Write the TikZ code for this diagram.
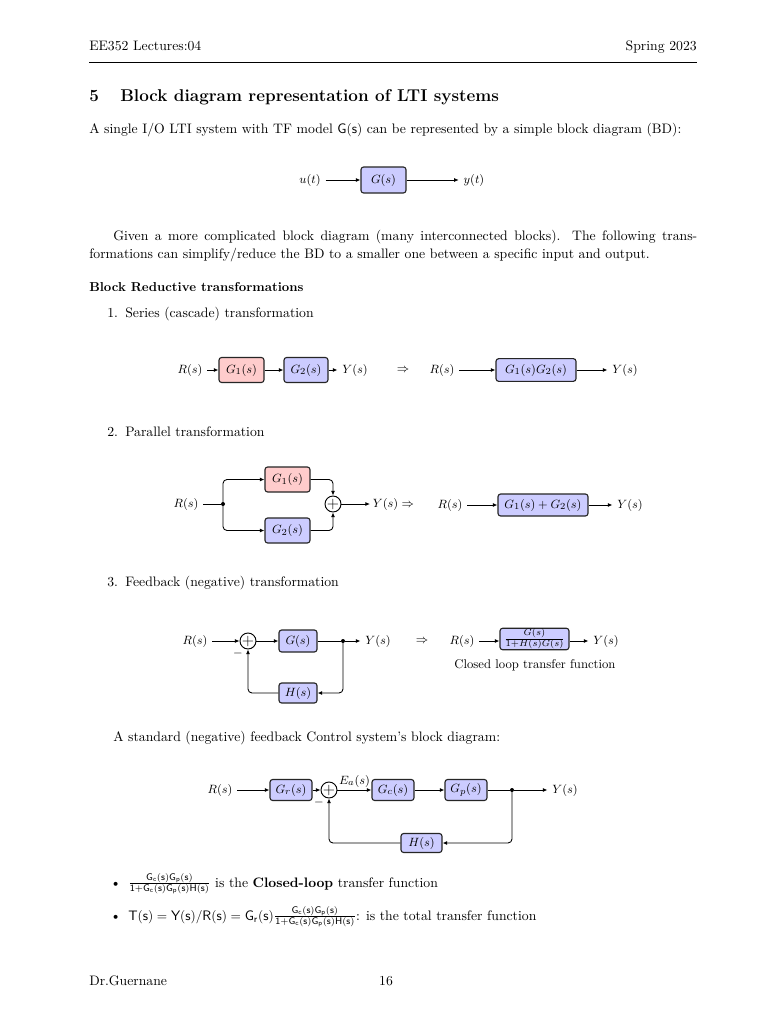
\documentclass[tikz,border=0pt]{standalone}
\usepackage{fontspec}
\usepackage{amsmath}
\usetikzlibrary{arrows.meta,calc}
\newcommand{\bodyfont}{\fontsize{10.3}{12}\selectfont}
\newcommand{\titlefont}{\fontsize{12.8}{15}\selectfont\bfseries}
\newcommand{\dgfont}{\fontsize{9.5}{11}\selectfont}
\begin{document}
\begin{tikzpicture}[x=0.75pt,y=-0.75pt,
  txt/.style={anchor=base west,inner sep=0pt,font=\bodyfont},
  blk/.style={draw=black!85,line width=0.85pt,fill=blue!20,rounded corners=2pt,inner sep=1pt,font=\dgfont},
  redblk/.style={blk,fill=red!20},
  sig/.style={inner sep=3.5pt,font=\dgfont},
  sumnode/.style={circle,draw=black,line width=0.7pt,minimum size=10.5pt,inner sep=0pt,font=\fontsize{11.5}{11.5}\selectfont},
  arr/.style={-{Latex[length=3.5pt,width=3pt]},line width=0.65pt},
  ln/.style={line width=0.65pt},
  jdot/.style={circle,fill=black,inner sep=0pt,minimum size=3pt}]
\useasboundingbox[fill=white] (0,0) rectangle (768,1024);

% header
\node[txt] (hl) at (89,51) {EE352 Lectures:04};
\node[txt,anchor=base east] (hr) at (697,51) {Spring 2023};
\draw[line width=0.6pt] (89,62) -- (697,62);
\node[txt,font=\titlefont] (sn) at (89,101) {5};
\node[txt,font=\titlefont] (st) at (120,101) {Block diagram representation of LTI systems};
\node[txt] (p1) at (89,133) {A single I/O LTI system with TF model $\mathsf{G(s)}$ can be represented by a simple block diagram (BD):};

% diagram 1
\node[sig] (u) at (310,180) {$u(t)$};
\node[blk,minimum width=33.75pt,minimum height=19.5pt] (G) at (383.5,180) {$G(s)$};
\node[sig] (yt) at (474,180) {$y(t)$};
\draw[arr] (u) -- (G);
\draw[arr] (G) -- (yt);

\node[txt] (p2) at (113,240) {\makebox[438pt][s]{Given a more complicated block diagram (many interconnected blocks). The following trans-}};
\node[txt] (p3) at (89,258) {formations can simplify/reduce the BD to a smaller one between a specific input and output.};
\node[txt,font=\fontsize{9.7}{12}\selectfont\bfseries] (bh) at (89,291) {Block Reductive transformations};
\node[txt] (i1n) at (107,317) {1.};
\node[txt] (i1) at (125,317) {Series (cascade) transformation};

% series
\node[sig] (r1) at (190,370) {$R(s)$};
\node[redblk,minimum width=33.75pt,minimum height=18.75pt] (g1) at (241.5,370) {$G_1(s)$};
\node[blk,minimum width=33pt,minimum height=18.75pt] (g2) at (306,370) {$G_2(s)$};
\node[sig] (y1) at (355,370) {$Y(s)$};
\node[sig] (imp1) at (403,370) {$\Rightarrow$};
\node[sig] (r2) at (442,370) {$R(s)$};
\node[blk,minimum width=60pt,minimum height=17pt] (g12) at (536,370) {$G_1(s)G_2(s)$};
\node[sig] (y2) at (625,370) {$Y(s)$};
\draw[arr] (r1) -- (g1);
\draw[arr] (g1) -- (g2);
\draw[arr] (g2) -- (y1);
\draw[arr] (r2) -- (g12);
\draw[arr] (g12) -- (y2);

\node[txt] (i2n) at (107,436) {2.};
\node[txt] (i2) at (125,436) {Parallel transformation};

% parallel
\node[sig] (r3) at (186,504) {$R(s)$};
\node[jdot] (j1) at (223,504) {};
\node[redblk,minimum width=33.75pt,minimum height=18.75pt] (pg1) at (287.5,479.5) {$G_1(s)$};
\node[blk,minimum width=33.75pt,minimum height=18.75pt] (pg2) at (287.5,530.5) {$G_2(s)$};
\node[sumnode] (s1) at (333,504) {$+$};
\node[sig,anchor=west,inner sep=2pt] (y3) at (370,504) {$Y(s)\Rightarrow$};
\draw[ln] (r3) -- (j1);
\draw[arr,rounded corners=3pt] (j1.center) |- (pg1);
\draw[arr,rounded corners=3pt] (j1.center) |- (pg2);
\draw[arr,rounded corners=3pt] (pg1) -| (s1);
\draw[arr,rounded corners=3pt] (pg2) -| (s1);
\draw[arr] (s1) -- (y3);
\node[sig] (r4) at (450,505) {$R(s)$};
\node[blk,minimum width=67.5pt,minimum height=16.5pt] (pg12) at (543,505) {$G_1(s)+G_2(s)$};
\node[sig] (y4) at (630,505) {$Y(s)$};
\draw[arr] (r4) -- (pg12);
\draw[arr] (pg12) -- (y4);

\node[txt] (i3n) at (107,586) {3.};
\node[txt] (i3) at (125,586) {Feedback (negative) transformation};

% feedback
\node[sig] (r5) at (195,641) {$R(s)$};
\node[sumnode] (s2) at (248,641) {$+$};
\node[sig,inner sep=0pt] (m1) at (238,653) {$-$};
\node[blk,minimum width=28.5pt,minimum height=16.5pt] (fg) at (298,641) {$G(s)$};
\node[jdot] (j2) at (343,641) {};
\node[sig] (y5) at (378,641) {$Y(s)$};
\node[blk,minimum width=28.5pt,minimum height=15pt] (fh) at (298,693) {$H(s)$};
\draw[arr] (r5) -- (s2);
\draw[arr] (s2) -- (fg);
\draw[ln] (fg) -- (j2);
\draw[arr] (j2) -- (y5);
\draw[arr,rounded corners=3pt] (j2.center) |- (fh);
\draw[arr,rounded corners=3pt] (fh) -| (s2);
\node[sig] (imp2) at (422,641) {$\Rightarrow$};
\node[sig] (r6) at (462,641) {$R(s)$};
\node[blk,minimum width=51.75pt,minimum height=15pt,inner sep=0.5pt] (cl) at (534.5,639) {$\frac{G(s)}{1+H(s)G(s)}$};
\node[sig] (y6) at (606,641) {$Y(s)$};
\draw[arr] (r6.east) -- (r6.east -| cl.west);
\draw[arr] (y6.west -| cl.east) -- (y6.west);
\node[sig,inner sep=0pt] (cltxt) at (535,665) {Closed loop transfer function};

\node[txt] (p4) at (113,741) {A standard (negative) feedback Control system's block diagram:};

% standard control
\node[sig] (r7) at (220,790) {$R(s)$};
\node[blk,minimum width=31.5pt,minimum height=15.75pt] (gr) at (291,790) {$G_r(s)$};
\node[sumnode] (s3) at (329,790) {$+$};
\node[sig,inner sep=0pt] (m2) at (319,802) {$-$};
\node[blk,minimum width=31.5pt,minimum height=15.75pt] (gc) at (393,790) {$G_c(s)$};
\node[blk,minimum width=31.5pt,minimum height=15.75pt] (gp) at (466,790) {$G_p(s)$};
\node[jdot] (j3) at (512,790) {};
\node[sig] (y7) at (565,790) {$Y(s)$};
\node[blk,minimum width=30.75pt,minimum height=14.25pt] (sh) at (421.5,843) {$H(s)$};
\draw[arr] (r7) -- (gr);
\draw[arr] (gr) -- (s3);
\draw[arr] (s3) -- node[above=-1.5pt,font=\dgfont] (ea) {$E_a(s)$} (gc);
\draw[arr] (gc) -- (gp);
\draw[ln] (gp) -- (j3);
\draw[arr] (j3) -- (y7);
\draw[arr,rounded corners=3pt] (j3.center) |- (sh);
\draw[arr,rounded corners=3pt] (sh) -| (s3);

% bullets
\node[txt] (b1) at (110,887) {\textbullet};
\node[txt] (bt1) at (128,887) {$\frac{\mathsf{G_c(s)G_p(s)}}{\mathsf{1+G_c(s)G_p(s)H(s)}}$ is the \textbf{Closed-loop} transfer function};
\node[txt] (b2) at (110,920) {\textbullet};
\node[txt] (bt2) at (128,920) {$\mathsf{T(s) = Y(s)/R(s) = G_r(s)}\frac{\mathsf{G_c(s)G_p(s)}}{\mathsf{1+G_c(s)G_p(s)H(s)}}$: is the total transfer function};

% footer
\node[txt] (fl) at (89,985) {Dr.Guernane};
\node[txt,anchor=base] (fn) at (386,985) {16};
\end{tikzpicture}
\end{document}
